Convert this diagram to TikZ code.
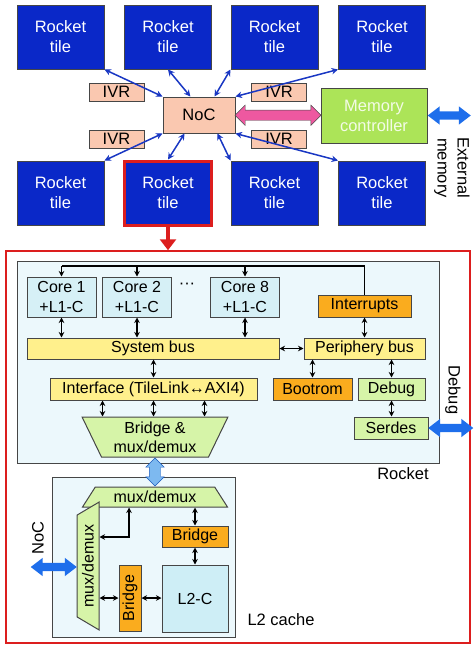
\documentclass[tikz,border=0pt]{standalone}
\usepackage{fontspec}
\setmainfont{Liberation Sans}
\usetikzlibrary{arrows.meta, positioning, calc, shapes.geometric, shapes.arrows}
\definecolor{tileblue}{RGB}{10,40,200}
\definecolor{salmon}{RGB}{250,200,176}
\definecolor{memgreen}{RGB}{172,228,88}
\definecolor{linkpink}{RGB}{238,88,160}
\definecolor{nocblue}{RGB}{25,55,195}
\definecolor{fatblue}{RGB}{30,110,235}
\definecolor{paleblue}{RGB}{125,185,240}
\definecolor{framered}{RGB}{220,30,30}
\definecolor{panel}{RGB}{236,248,252}
\definecolor{corecyan}{RGB}{214,240,246}
\definecolor{l2cyan}{RGB}{206,238,246}
\definecolor{busyellow}{RGB}{255,240,140}
\definecolor{periorange}{RGB}{250,172,30}
\definecolor{palegreen}{RGB}{214,244,168}
\definecolor{boxline}{RGB}{70,70,70}
\tikzset{>={Stealth[length=5.5pt,width=5.5pt]}}
\tikzset{
	blk/.style={draw=boxline, line width=1pt, inner sep=0pt, align=center, font=\fontsize{16}{20}\selectfont},
	tile/.style={blk, fill=tileblue, text=white, minimum width=87pt, minimum height=64pt, font=\fontsize{16.5}{20}\selectfont},
	ivr/.style={blk, fill=salmon, minimum width=55pt, minimum height=18pt, font=\fontsize{16.5}{20}\selectfont},
	core/.style={blk, fill=corecyan, minimum width=69pt, minimum height=40pt},
	bus/.style={blk, fill=busyellow, minimum height=21pt},
	orng/.style={blk, fill=periorange, minimum height=22pt},
	grn/.style={blk, fill=palegreen, minimum height=22pt},
	panelbox/.style={draw=boxline, line width=1pt, fill=panel, inner sep=0pt},
	txt/.style={inner sep=0pt, align=center, font=\fontsize{16.5}{20}\selectfont},
	fat/.style={double arrow, inner sep=0pt, double arrow head extend=5pt},
	wire/.style={black, line width=1.2pt},
	nocwire/.style={nocblue, line width=1.5pt, {Stealth[length=6.5pt,width=6.5pt]}-{Stealth[length=6.5pt,width=6.5pt]}}
}
\begin{document}
\begin{tikzpicture}[x=1pt, y=-1pt]
	\useasboundingbox (0,0) rectangle (474,648);

	\node [tile] (t1) at (60.5,37) {Rocket\\tile};
	\node [tile] (t2) at (168,37) {Rocket\\tile};
	\node [tile] (t3) at (274.5,37) {Rocket\\tile};
	\node [tile] (t4) at (382,37) {Rocket\\tile};
	\node [tile] (t5) at (60.5,193) {Rocket\\tile};
	\node [tile, draw=framered, line width=3pt] (t6) at (168,193) {Rocket\\tile};
	\node [tile] (t7) at (274.5,193) {Rocket\\tile};
	\node [tile] (t8) at (382,193) {Rocket\\tile};

	\node [ivr] (ivr1) at (116.5,92) {IVR};
	\node [ivr] (ivr2) at (279,92) {IVR};
	\node [ivr] (ivr3) at (116.5,139) {IVR};
	\node [ivr] (ivr4) at (279,139) {IVR};
	\node [blk, fill=salmon, minimum width=72pt, minimum height=36pt, font=\fontsize{16.5}{20}\selectfont] (noc) at (199,115) {NoC};
	\node [blk, fill=memgreen, text=white!85!memgreen, minimum width=106pt, minimum height=55pt, font=\fontsize{16.5}{20}\selectfont] (mc) at (374,115.5) {Memory\\controller};

	\draw [nocwire] (noc.north west) -- (t1.south east);
	\draw [nocwire] (noc.115) -- (t2.south);
	\draw [nocwire] (noc.50) -- (t3.south west);
	\draw [nocwire] (noc.north east) -- (t4.south west);
	\draw [nocwire] (noc.south west) -- (t5.north east);
	\draw [nocwire] (noc.232) -- (t6.north);
	\draw [nocwire] (noc.-45) -- (t7.north west);
	\draw [nocwire] (noc.south east) -- (t8.north west);

	\node [fat, draw=black!70, fill=linkpink, inner ysep=5pt, minimum height=86pt] (memlink) at ($(noc.east)!.5!(mc.west)$) {};
	\coordinate (extmem) at (471,115.5);
	\node [fat, fill=fatblue, inner ysep=4pt, double arrow tip angle=75, minimum height=43pt] (extlink) at ($(mc.east)!.5!(extmem)$) {};
	\node [txt, rotate=-90] (extlabel) at (452,168) {External\\memory};

	% rocket tile, opened
	\node [draw=framered, line width=1.5pt, inner sep=0pt, minimum width=464pt, minimum height=392pt] (outer) at (238,447) {};
	\draw [framered, line width=4pt, -{Triangle[length=11pt,width=16pt]}] (t6.south) -- (t6.south |- outer.north);

	\node [panelbox, minimum width=422pt, minimum height=202pt] (rocket) at (228,362) {};
	\node [txt] (rocketlabel) at (403,474) {Rocket};

	\node [core] (core1) at (61.5,297) {Core 1\\+L1-C};
	\node [core] (core2) at (137,297) {Core 2\\+L1-C};
	\node [core] (core8) at (245,297) {Core 8\\+L1-C};
	\node [txt, anchor=base] (dots) at (187,288) {···};
	\node [orng, minimum width=93pt] (irq) at (364.5,306) {Interrupts};
	\node [bus, minimum width=252pt] (sysbus) at (153,348.5) {System bus};
	\node [bus, minimum width=121pt] (pbus) at (364.5,348.5) {Periphery bus};
	\node [bus, minimum height=22pt, minimum width=207pt] (iface) at (153.5,389) {Interface (TileLink↔AXI4)};
	\node [orng, minimum width=79pt] (bootrom) at (312.5,389) {Bootrom};
	\node [grn, minimum width=67pt] (debug) at (391.5,389) {Debug};
	\node [grn, minimum width=74pt] (serdes) at (391,428) {Serdes};
	\node [blk, fill=palegreen, trapezium, shape border rotate=180, trapezium left angle=64, trapezium right angle=64, trapezium stretches=true, minimum width=146pt, minimum height=40pt, font=\fontsize{16}{19}\selectfont] (bridgemux) at (155,437) {Bridge \&\\mux/demux};

	\coordinate (irqtop) at (364.5,266);
	\draw [wire] (irq.north) -- (irqtop) -- (irqtop -| core1.north);
	\draw [wire, ->] (irqtop -| core1.north) -- (core1.north);
	\draw [wire, ->] (irqtop -| core2.north) -- (core2.north);
	\draw [wire, ->] (irqtop -| core8.north) -- (core8.north);
	\draw [wire, <->] (core1.south) -- (core1.south |- sysbus.north);
	\draw [wire, <->] (core2.south) -- (core2.south |- sysbus.north);
	\draw [wire, <->] (core8.south) -- (core8.south |- sysbus.north);
	\draw [wire, <->] (irq.south) -- (irq.south |- pbus.north);
	\draw [wire, <->] (sysbus.east) -- (pbus.west);
	\draw [wire, <->] (sysbus.south -| iface.north) -- (iface.north);
	\foreach \dx in {-51,0,51}
		\draw [wire, <->] ([xshift=\dx pt]iface.south) -- ([xshift=\dx pt]iface.south |- bridgemux.north);
	\draw [wire, <->] (pbus.south -| bootrom.north) -- (bootrom.north);
	\draw [wire, <->] (pbus.south -| debug.north) -- (debug.north);
	\draw [wire, <->] (debug.south) -- (debug.south |- serdes.north);

	\coordinate (dbgext) at (473,428);
	\node [fat, fill=fatblue, inner ysep=4pt, double arrow tip angle=75, minimum height=45pt] (dbglink) at ($(serdes.east)!.5!(dbgext)$) {};
	\node [txt, rotate=-90] (dbglabel) at (453,390) {Debug};

	% L2 cache
	\node [panelbox, minimum width=183pt, minimum height=160pt] (l2) at (143.5,557) {};
	\node [txt] (l2label) at (281,620) {L2 cache};

	\node [blk, fill=palegreen, trapezium, trapezium angle=53, trapezium stretches=true, minimum width=146pt, minimum height=20pt] (topmux) at (155,497) {mux/demux};
	\node [blk, fill=palegreen, trapezium, rotate=90, trapezium angle=48, trapezium stretches=true, minimum width=128pt, minimum height=22pt] (leftmux) at (88,566) {mux/demux};
	\node [orng, minimum width=66pt, minimum height=21pt] (bridgeb) at (195,536.5) {Bridge};
	\node [blk, fill=l2cyan, minimum width=66pt, minimum height=67pt] (l2c) at (195,598.5) {L2-C};
	\node [orng, rotate=90, minimum width=66pt] (vbridge) at (130,598) {Bridge};

	\node [fat, rotate=90, draw=fatblue!80!black, fill=paleblue, inner ysep=5.5pt, double arrow head extend=3.5pt, minimum height=28pt] (l2link) at ($(bridgemux.south)!.5!(topmux.north)$) {};

	\draw [wire, <->] ([xshift=-26pt]topmux.south) |- ([yshift=29pt]leftmux.south);
	\draw [wire, <->] (topmux.south -| bridgeb.north) -- (bridgeb.north);
	\draw [wire, <->] (bridgeb.south) -- (l2c.north);
	\draw [wire, <->] (leftmux.south |- vbridge.center) -- (vbridge.north);
	\draw [wire, <->] (vbridge.south) -- (vbridge.south -| l2c.west);

	\coordinate (nocext) at (31,567);
	\node [fat, fill=fatblue, inner ysep=4pt, double arrow tip angle=75, minimum height=46pt] (noclink) at ($(nocext)!.5!(leftmux.north |- nocext)$) {};
	\node [txt, rotate=90] (noclabel) at (38,538) {NoC};
\end{tikzpicture}
\end{document}
